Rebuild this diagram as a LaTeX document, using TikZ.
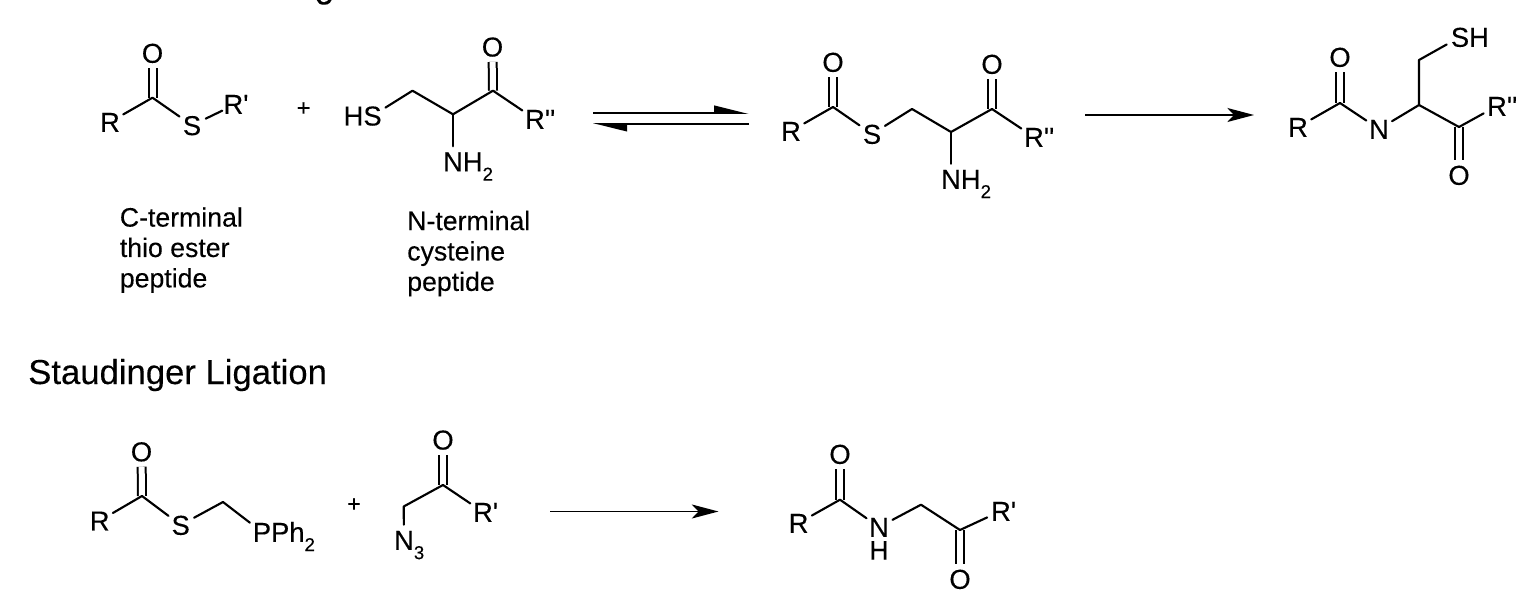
\documentclass[tikz,border=0pt]{standalone}
\usepackage{fontspec}
\usetikzlibrary{arrows.meta}
\newfontfamily\arialf[FakeBold=0.2]{Liberation Sans}
\newcommand\atm[1]{\smash{\makebox[0pt]{\raisebox{-0.358em}{#1}}}}
\newcommand\subs[1]{\raisebox{-7pt}{\fontsize{14}{14}\selectfont #1}}
\tikzset{
  atom/.style={circle,minimum size=22.5pt,inner sep=0pt,font=\arialf\fontsize{20.5}{24}\selectfont},
  sym/.style={inner sep=0pt,font=\arialf\fontsize{20}{24}\selectfont},
  plus/.style={inner sep=0pt,font=\arialf\fontsize{17.5}{20}\selectfont},
  caption/.style={inner sep=0pt,anchor=north west,align=left,font=\arialf\fontsize{20}{22.8}\selectfont},
  title/.style={inner sep=0pt,anchor=base west,font=\arialf\fontsize{26}{30}\selectfont},
  bond/.style={line width=1.6pt,line cap=round,line join=round},
  dbl/.style={line width=1.5pt,double,double distance=4.5pt},
  rxn/.style={line width=1.3pt,-{Stealth[length=20pt,width=10.5pt,inset=5pt]}},
  hup/.style={line width=1.5pt,-{Stealth[length=23pt,width=11pt,inset=0pt,left]}},
  hdn/.style={line width=1.2pt,-{Stealth[length=23pt,width=11pt,inset=0pt,left]}}
}
\begin{document}
\begin{tikzpicture}[x=0.75pt,y=-0.75pt]
\path[use as bounding box,fill=white] (0,0) rectangle (1523,598);
% cut-off title
\node[title] (topg) at (314.5,-2.5) {g};
% ---- thioester
\node[atom] (a1r) at (110,122) {\atm{R}};
\coordinate (a1c) at (152.5,97.7);
\node[atom] (a1o) at (152.5,53) {\atm{O}};
\node[atom] (a1s) at (192,125.3) {\atm{S}};
\node[atom] (a1q) at (236,104) {\atm{R'}};
\draw[dbl] (a1c) -- (a1o);
\draw[bond] (a1r) -- (a1c) -- (a1s);
\draw[bond] (a1s) -- (a1q);
\node[plus] (p1) at (303.6,109) {+};
% ---- cysteine
\node[atom] (b1s) at (372.5,115.7) {\atm{\llap{H}S}};
\coordinate (b1a) at (412.5,90.7);
\coordinate (b1b) at (453,114.3);
\coordinate (b1c) at (493,90.7);
\node[atom] (b1o) at (492.5,46.7) {\atm{O}};
\node[atom] (b1r) at (535,119) {\atm{R\rlap{''}}};
\node[atom] (b1n) at (453,161.5) {\atm{N\rlap{H\subs{2}}}};
\draw[dbl] (b1c) -- (b1o);
\draw[bond] (b1s) -- (b1a) -- (b1b) -- (b1c) -- (b1r);
\draw[bond] (b1b) -- (b1n);
\node[caption] (cap1) at (119.6,207) {C-terminal\\thio ester\\peptide};
\node[caption] (cap2) at (407,210.5) {N-terminal\\cysteine\\peptide};
% ---- equilibrium
\coordinate (e1a) at (593,113);
\coordinate (e1b) at (749,113);
\coordinate (e2a) at (749,124);
\coordinate (e2b) at (593,124);
\draw[hup] (e1a) -- (e1b);
\draw[hdn] (e2a) -- (e2b);
% ---- intermediate
\node[atom] (c1r) at (791,131) {\atm{R}};
\coordinate (c1c) at (833,107);
\node[atom] (c1o) at (833,62) {\atm{O}};
\node[atom] (c1s) at (872,134) {\atm{S}};
\coordinate (c1a) at (912,109);
\coordinate (c1b) at (951,132);
\coordinate (c1d) at (992,109);
\node[atom] (c2o) at (992,64) {\atm{O}};
\node[atom] (c1q) at (1034,137) {\atm{R\rlap{''}}};
\node[atom] (c1n) at (951,179) {\atm{N\rlap{H\subs{2}}}};
\draw[dbl] (c1c) -- (c1o);
\draw[dbl] (c1d) -- (c2o);
\draw[bond] (c1r) -- (c1c) -- (c1s);
\draw[bond] (c1s) -- (c1a) -- (c1b) -- (c1d) -- (c1q);
\draw[bond] (c1b) -- (c1n);
% ---- arrow
\coordinate (f1a) at (1085,115);
\coordinate (f1b) at (1254,115);
\draw[rxn] (f1a) -- (f1b);
% ---- product 1
\node[atom] (d1r) at (1298,127) {\atm{R}};
\coordinate (d1c) at (1340,103);
\node[atom] (d1o) at (1340,57) {\atm{O}};
\node[atom] (d1n) at (1379,129) {\atm{N}};
\coordinate (d1a) at (1419,105);
\coordinate (d1b) at (1419,60);
\node[atom] (d1s) at (1460,37) {\atm{S\rlap{H}}};
\coordinate (d1d) at (1459,127);
\node[atom] (d2o) at (1459,175) {\atm{O}};
\node[atom] (d1q) at (1497,106) {\atm{R\rlap{''}}};
\draw[dbl] (d1c) -- (d1o);
\draw[dbl] (d1d) -- (d2o);
\draw[bond] (d1r) -- (d1c) -- (d1n);
\draw[bond] (d1n) -- (d1a) -- (d1b) -- (d1s);
\draw[bond] (d1a) -- (d1d) -- (d1q);
% ---- Staudinger
\node[title] (staud) at (28,384) {Staudinger Ligation};
\node[atom] (g1r) at (99.7,520.7) {\atm{R}};
\coordinate (g1c) at (142,496);
\node[atom] (g1o) at (141.5,451.5) {\atm{O}};
\node[atom] (g1s) at (180.7,525) {\atm{S}};
\coordinate (g1a) at (223,502);
\node[atom] (g1p) at (262,532) {\atm{P\rlap{Ph\subs{2}}}};
\draw[dbl] (g1c) -- (g1o);
\draw[bond] (g1r) -- (g1c) -- (g1s);
\draw[bond] (g1s) -- (g1a) -- (g1p);
\node[plus] (p2) at (354,505) {+};
\coordinate (h1a) at (403.7,506.5);
\coordinate (h1c) at (443,485);
\node[atom] (h1o) at (443,439.7) {\atm{O}};
\node[atom] (h1n) at (404,540) {\atm{N\rlap{\subs{3}}}};
\node[atom] (h1r) at (483,512) {\atm{R\rlap{'}}};
\draw[dbl] (h1c) -- (h1o);
\draw[bond] (h1n) -- (h1a) -- (h1c) -- (h1r);
% ---- arrow
\coordinate (k1a) at (550,511.5);
\coordinate (k1b) at (718.5,511.5);
\draw[rxn] (k1a) -- (k1b);
% ---- product 2
\node[atom] (m1r) at (798.6,523) {\atm{R}};
\coordinate (m1c) at (840,499.7);
\node[atom] (m1o) at (840,454) {\atm{O}};
\node[atom] (m1n) at (879,527) {\atm{N}};
\node[sym] (m1h) at (879,550) {\atm{H}};
\coordinate (m1a) at (921,504.7);
\coordinate (m1d) at (960,530);
\node[atom] (m2o) at (960,579) {\atm{O}};
\node[atom] (m1q) at (1001,511) {\atm{R\rlap{'}}};
\draw[dbl] (m1c) -- (m1o);
\draw[dbl] (m1d) -- (m2o);
\draw[bond] (m1r) -- (m1c) -- (m1n);
\draw[bond] (m1n) -- (m1a) -- (m1d) -- (m1q);
\end{tikzpicture}
\end{document}
